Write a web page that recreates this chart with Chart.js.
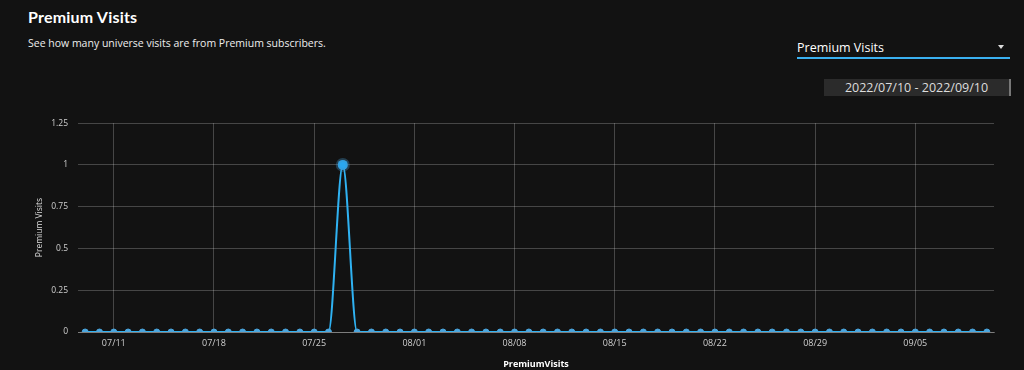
<!DOCTYPE html>
<html>
<head>
<meta charset="utf-8">
<script src="https://cdn.jsdelivr.net/npm/chart.js@4/dist/chart.umd.min.js"></script>
<style>
  body{margin:0;background:#121212;width:1024px;height:370px;overflow:hidden;font-family:"Open Sans",sans-serif;color:#fff;position:relative;}
  .title{position:absolute;left:28px;top:7px;font-size:16px;font-weight:700;font-family:Lato,sans-serif;letter-spacing:0.2px;}
  .sub{position:absolute;left:28px;top:36px;font-size:10.5px;color:#eee;}
  .select{position:absolute;left:797px;top:39px;width:213px;height:18px;border-bottom:2px solid #3ab0f0;font-size:12.5px;}
  .select .arr{position:absolute;right:6px;top:6px;width:0;height:0;border-left:3px solid transparent;border-right:3px solid transparent;border-top:4px solid #ddd;}
  .range{position:absolute;left:824px;top:79px;width:185px;height:17px;background:#2b2b2b;border-right:2px solid #777;font-size:12.5px;line-height:17px;text-align:center;color:#ddd;}
  .wrap{position:absolute;left:0;top:108px;width:1024px;height:262px;}
</style>
</head>
<body>
<div class="title">Premium Visits</div>
<div class="sub">See how many universe visits are from Premium subscribers.</div>
<div class="select">Premium Visits<span class="arr"></span></div>
<div class="range">2022/07/10 - 2022/09/10</div>
<div class="wrap"><canvas id="chart"></canvas></div>
<script>
const days = [
  '07/09','07/10','07/11','07/12','07/13','07/14','07/15','07/16','07/17','07/18',
  '07/19','07/20','07/21','07/22','07/23','07/24','07/25','07/26','07/27','07/28',
  '07/29','07/30','07/31','08/01','08/02','08/03','08/04','08/05','08/06','08/07',
  '08/08','08/09','08/10','08/11','08/12','08/13','08/14','08/15','08/16','08/17',
  '08/18','08/19','08/20','08/21','08/22','08/23','08/24','08/25','08/26','08/27',
  '08/28','08/29','08/30','08/31','09/01','09/02','09/03','09/04','09/05','09/06',
  '09/07','09/08','09/09','09/10'
];
const premiumVisits = [
  0,0,0,0,0,0,0,0,0,0,
  0,0,0,0,0,0,0,0,1,0,
  0,0,0,0,0,0,0,0,0,0,
  0,0,0,0,0,0,0,0,0,0,
  0,0,0,0,0,0,0,0,0,0,
  0,0,0,0,0,0,0,0,0,0,
  0,0,0,0
];
const tickLabels = ['07/11','07/18','07/25','08/01','08/08','08/15','08/22','08/29','09/05'];
const yTickLabels = ['0', '0.25', '0.5', '0.75', '1', '1.25'];

const gridColor = 'rgba(255,255,255,0.22)';
const peak = Math.max(...premiumVisits);

const ctx = document.getElementById('chart').getContext('2d');
const chart = new Chart(ctx, {
  type: 'line',
  data: {
    labels: days,
    datasets: [{
      label: 'Premium Visits',
      data: premiumVisits,
      borderColor: '#2fb2f2',
      borderWidth: 2,
      tension: 0.4,
      cubicInterpolationMode: 'monotone',
      pointBackgroundColor: premiumVisits.map(v => v === peak ? '#2aa8f0' : '#4ba6de'),
      pointBorderColor: premiumVisits.map(v => v === peak ? 'rgba(70,150,200,0.35)' : '#4ba6de'),
      pointBorderWidth: premiumVisits.map(v => v === peak ? 4 : 1),
      pointRadius: premiumVisits.map(v => v === peak ? 5 : 3),
      fill: false
    }]
  },
  options: {
    animation: false,
    responsive: true,
    maintainAspectRatio: false,
    layout: { padding: { left: 34, right: 30, top: 9, bottom: 0 } },
    plugins: { legend: { display: false }, tooltip: { enabled: false } },
    scales: {
      x: {
        offset: true,
        grid: { color: gridColor, drawTicks: false },
        border: { color: 'rgba(255,255,255,0.3)' },
        ticks: {
          autoSkip: false,
          maxRotation: 0,
          color: '#cfcfcf',
          font: { family: 'Open Sans', size: 9 },
          padding: 6,
          callback: function(val) {
            const l = this.getLabelForValue(val);
            return tickLabels.includes(l) ? l : null;
          }
        },
        title: {
          display: true,
          text: 'PremiumVisits',
          color: '#fff',
          font: { family: 'Open Sans', size: 9, weight: 'bold' },
          padding: { top: 7, bottom: 0 }
        },
        afterFit: s => { s.height = 38; }
      },
      y: {
        min: 0,
        max: 1.25,
        grid: { color: gridColor, drawTicks: false },
        border: { display: false },
        ticks: {
          stepSize: 0.25,
          color: '#cfcfcf',
          font: { family: 'Open Sans', size: 8.5 },
          padding: 10,
          callback: (v, i) => yTickLabels[i]
        },
        title: {
          display: true,
          text: 'Premium Visits',
          color: '#ddd',
          font: { family: 'Open Sans', size: 8.5 },
          padding: { top: 0, bottom: 0 }
        },
        afterFit: s => { s.width = 44; }
      }
    }
  }
});
</script>
</body>
</html>
